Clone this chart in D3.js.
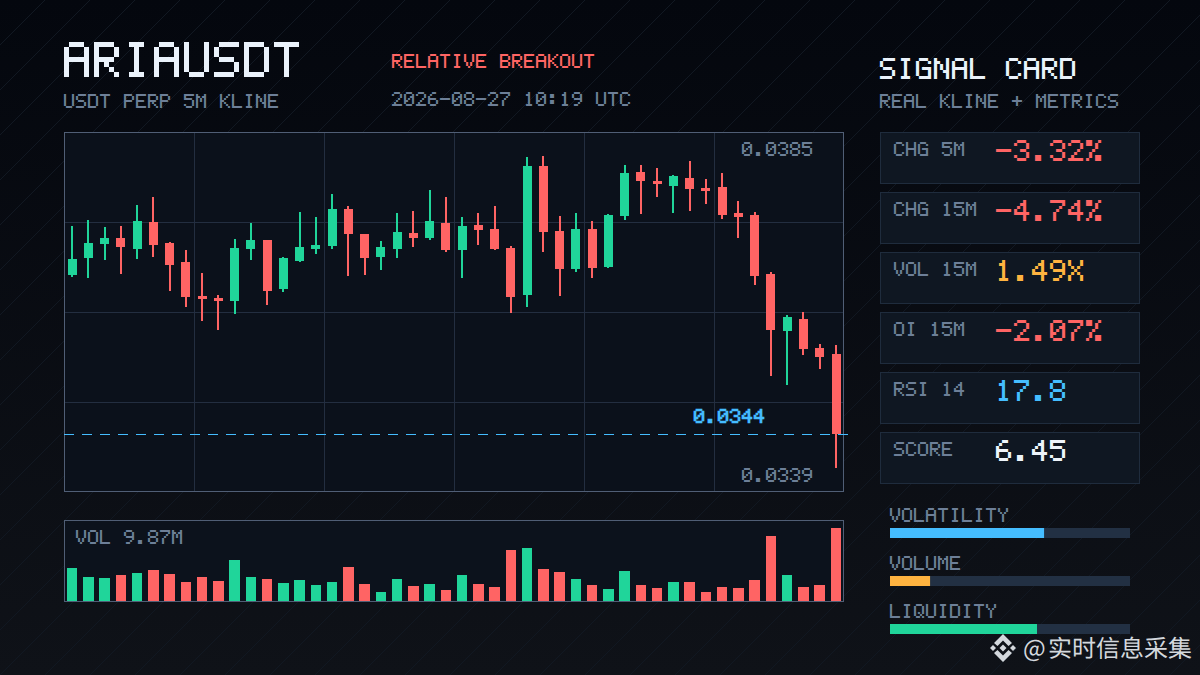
<!DOCTYPE html>
<html><head><meta charset="utf-8">
<script src="https://cdnjs.cloudflare.com/ajax/libs/d3/7.8.5/d3.min.js"></script>
<style>html,body{margin:0;padding:0;background:#05080f;overflow:hidden}svg{display:block}
text{font-family:"Px57","DejaVu Sans Mono",monospace;text-rendering:geometricPrecision;font-kerning:none}</style></head><body><svg id="c" width="1200" height="675"></svg>
<script>
// values
const opens = [.036746,.036996,.037203,.037291,.037129,.037527,.037217,.036937,.036436,.036406,.036362,.037129,.037262,.036539,.036952,.037129,.037173,.037719,.037350,.037011,.037129,.037365,.037291,.037512,.037114,.037483,.037424,.037144,.036451,.038353,.037394,.036834,.037424,.036863,.037615,.038264,.038131,.038058,.038176,.038028,.038043,.037660,.037630,.036760,.035920,.036097,.035669,.035581];
const closes = [.036981,.037217,.037291,.037158,.037542,.037188,.036893,.036421,.036392,.036362,.037144,.037262,.036510,.036996,.037158,.037188,.037719,.037350,.036996,.037158,.037379,.037291,.037542,.037114,.037468,.037409,.037129,.036421,.038353,.037379,.036834,.037424,.036849,.037630,.038249,.038131,.038087,.038205,.038013,.037984,.037630,.037601,.036731,.035935,.036126,.035654,.035537,.034401];
const highs = [.037468,.037556,.037453,.037468,.037778,.037895,.037232,.037114,.036775,.036451,.037276,.037512,.037262,.037011,.037674,.037601,.037940,.037763,.037350,.037247,.037660,.037689,.037999,.037895,.037601,.037660,.037763,.037173,.038485,.038500,.037615,.037660,.037542,.037645,.038367,.038367,.038323,.038220,.038426,.038161,.038249,.037837,.037674,.036790,.036156,.036200,.035728,.035713];
const lows = [.036716,.036701,.036967,.036760,.036981,.037011,.036510,.036274,.036067,.035935,.036171,.036967,.036303,.036495,.036937,.037055,.037129,.036731,.036746,.036819,.036996,.037158,.037262,.037085,.036701,.037188,.037114,.036185,.036274,.037085,.036436,.036790,.036701,.036849,.037556,.037645,.037895,.037660,.037689,.037792,.037571,.037291,.036598,.035256,.035124,.035566,.035360,.033900];
const volumes = [4.51,3.30,3.17,3.57,3.84,4.24,3.71,2.63,3.30,2.77,5.58,3.30,3.04,2.50,2.90,2.23,2.63,4.64,2.37,1.30,3.04,2.10,2.37,1.56,3.57,2.37,1.97,6.92,7.19,4.38,3.97,3.04,2.23,1.70,4.11,2.23,1.83,2.63,2.63,1.30,1.97,1.83,2.90,8.80,3.57,1.97,2.23,9.87];
const gridX = [1,2,3,4,5];
const gridY = [1,2,3];
const metricLabels = ["CHG 5M","CHG 15M","VOL 15M","OI 15M","RSI 14","SCORE"];
const metricValues = ["-3.32%","-4.74%","1.49X","-2.07%","17.8","6.45"];
const metricColors = ["#ff6464","#ff6464","#ffb340","#ff6464","#45bdff","#eef4fb"];
const gaugeLabels = ["VOLATILITY","VOLUME","LIQUIDITY"];
const gaugeValues = [0.642,0.167,0.6125];
const gaugeColors = ["#45bdff","#ffb340","#20d59a"];

// a small 5x7 pixel typeface, assembled in memory so that all text stays real text
const GLYPHS={
A:".###.|#...#|#...#|#####|#...#|#...#|#...#",B:"####.|#...#|#...#|####.|#...#|#...#|####.",C:".###.|#...#|#....|#....|#....|#...#|.###.",D:"####.|#...#|#...#|#...#|#...#|#...#|####.",E:"#####|#....|#....|####.|#....|#....|#####",
G:".###.|#...#|#....|#.###|#...#|#...#|.####",H:"#...#|#...#|#...#|#####|#...#|#...#|#...#",I:".###.|..#..|..#..|..#..|..#..|..#..|.###.",K:"#...#|#..#.|#.#..|##...|#.#..|#..#.|#...#",L:"#....|#....|#....|#....|#....|#....|#####",
M:"#...#|##.##|#.#.#|#.#.#|#...#|#...#|#...#",N:"#...#|##..#|#.#.#|#.#.#|#..##|#...#|#...#",O:".###.|#...#|#...#|#...#|#...#|#...#|.###.",P:"####.|#...#|#...#|####.|#....|#....|#....",Q:".###.|#...#|#...#|#...#|#.#.#|#..#.|.##.#",
R:"####.|#...#|#...#|####.|#.#..|#..#.|#...#",S:".####|#....|#....|.###.|....#|....#|####.",T:"#####|..#..|..#..|..#..|..#..|..#..|..#..",U:"#...#|#...#|#...#|#...#|#...#|#...#|.###.",V:"#...#|#...#|#...#|#...#|.#.#.|.#.#.|..#..",
X:"#...#|#...#|.#.#.|..#..|.#.#.|#...#|#...#",Y:"#...#|#...#|.#.#.|..#..|..#..|..#..|..#..",
0:".###.|#...#|#..##|#.#.#|##..#|#...#|.###.",1:"..#..|.##..|..#..|..#..|..#..|..#..|.###.",2:".###.|#...#|....#|...#.|..#..|.#...|#####",3:".###.|#...#|....#|..##.|....#|#...#|.###.",4:"...#.|..##.|.#.#.|#..#.|#####|...#.|...#.",
5:"#####|#....|####.|....#|....#|#...#|.###.",6:"..##.|.#...|#....|####.|#...#|#...#|.###.",7:"#####|....#|...#.|..#..|.#...|.#...|.#...",8:".###.|#...#|#...#|.###.|#...#|#...#|.###.",9:".###.|#...#|#...#|.####|....#|...#.|.##..",
".":".....|.....|.....|.....|.....|.##..|.##..",":":".....|.##..|.##..|.....|.##..|.##..|.....","-":".....|.....|.....|#####|.....|.....|.....","+":".....|..#..|..#..|#####|..#..|..#..|.....","%":"##..#|##.#.|...#.|..#..|.#...|.#.##|#..##"," ":".....|.....|.....|.....|.....|.....|....."};
function buildFont(){
  const W=()=>{const a=[];return{a,u8:v=>a.push(v&255),u16:v=>a.push((v>>8)&255,v&255),u32:v=>a.push((v>>>24)&255,(v>>>16)&255,(v>>>8)&255,v&255)}};
  const chars=Object.keys(GLYPHS).sort((p,q)=>p.charCodeAt(0)-q.charCodeAt(0));
  const n=chars.length+1,CELL=100;
  const glyf=W(),offs=[0];let maxPts=0,maxCon=0;const lsb=[0];
  offs.push(0);
  chars.forEach(ch=>{
    const rects=[];
    GLYPHS[ch].split("|").forEach((row,r)=>{
      let c=0;
      while(c<5){ if(row[c]==="#"){let e=c;while(e<5&&row[e]==="#")e++;
        const y0=(6-r)*CELL;rects.push([c*CELL,y0,e*CELL,y0+CELL+(r>0?2:0)]);c=e;} else c++; }
    });
    if(rects.length){
      const xMin=d3.min(rects,d=>d[0]),xMax=d3.max(rects,d=>d[2]),yMin=d3.min(rects,d=>d[1]),yMax=d3.max(rects,d=>d[3]);
      glyf.u16(rects.length);glyf.u16(xMin);glyf.u16(yMin);glyf.u16(xMax);glyf.u16(yMax);
      rects.forEach((_,i)=>glyf.u16(i*4+3));glyf.u16(0);
      rects.forEach(()=>{for(let k=0;k<4;k++)glyf.u8(1);});
      let px=0;rects.forEach(q=>{[q[0],q[0],q[2],q[2]].forEach(v=>{glyf.u16(v-px);px=v;});});
      let py=0;rects.forEach(q=>{[q[1],q[3],q[3],q[1]].forEach(v=>{glyf.u16(v-py);py=v;});});
      while(glyf.a.length%4)glyf.u8(0);
      maxPts=Math.max(maxPts,rects.length*4);maxCon=Math.max(maxCon,rects.length);lsb.push(xMin);
    } else lsb.push(0);
    offs.push(glyf.a.length);
  });
  const loca=W();offs.forEach(o=>loca.u32(o));
  const hmtx=W();for(let i=0;i<n;i++){hmtx.u16(600);hmtx.u16(lsb[i]);}
  const head=W();head.u32(0x00010000);head.u32(0x00010000);head.u32(0);head.u32(0x5F0F3CF5);head.u16(3);head.u16(1000);
  for(let i=0;i<4;i++)head.u32(0);head.u16(0);head.u16(0);head.u16(500);head.u16(700);head.u16(0);head.u16(8);head.u16(2);head.u16(1);head.u16(0);
  const hhea=W();hhea.u32(0x00010000);hhea.u16(800);hhea.u16(-200);hhea.u16(0);hhea.u16(600);hhea.u16(0);hhea.u16(100);hhea.u16(500);hhea.u16(1);hhea.u16(0);hhea.u16(0);for(let i=0;i<4;i++)hhea.u16(0);hhea.u16(0);hhea.u16(n);
  const maxp=W();maxp.u32(0x00010000);maxp.u16(n);maxp.u16(maxPts);maxp.u16(maxCon);maxp.u16(0);maxp.u16(0);maxp.u16(2);for(let i=0;i<8;i++)maxp.u16(0);
  const cmap=W();const seg=chars.length+1;cmap.u16(0);cmap.u16(1);cmap.u16(3);cmap.u16(1);cmap.u32(12);
  cmap.u16(4);cmap.u16(16+8*seg);cmap.u16(0);cmap.u16(seg*2);
  const es=Math.floor(Math.log2(seg)),sr=2*Math.pow(2,es);cmap.u16(sr);cmap.u16(es);cmap.u16(seg*2-sr);
  chars.forEach(c=>cmap.u16(c.charCodeAt(0)));cmap.u16(0xFFFF);cmap.u16(0);
  chars.forEach(c=>cmap.u16(c.charCodeAt(0)));cmap.u16(0xFFFF);
  chars.forEach((c,i)=>cmap.u16(i+1-c.charCodeAt(0)));cmap.u16(1);
  for(let i=0;i<seg;i++)cmap.u16(0);
  const names=[[1,"Px57"],[2,"Regular"],[4,"Px57"],[6,"Px57-Regular"]];
  const name=W();name.u16(0);name.u16(names.length);name.u16(6+12*names.length);let so=0;
  names.forEach(([id,s])=>{name.u16(3);name.u16(1);name.u16(0x409);name.u16(id);name.u16(s.length*2);name.u16(so);so+=s.length*2;});
  names.forEach(([,s])=>{for(const c of s)name.u16(c.charCodeAt(0));});
  const os2=W();os2.u16(1);os2.u16(600);os2.u16(400);os2.u16(5);os2.u16(0);for(let i=0;i<10;i++)os2.u16(100);os2.u16(0);for(let i=0;i<10;i++)os2.u8(0);for(let i=0;i<4;i++)os2.u32(0);
  "NONE".split("").forEach(c=>os2.u8(c.charCodeAt(0)));os2.u16(0x40);os2.u16(32);os2.u16(89);os2.u16(800);os2.u16(-200);os2.u16(0);os2.u16(800);os2.u16(200);os2.u32(1);os2.u32(0);
  const post=W();post.u32(0x00030000);post.u32(0);post.u16(-100);post.u16(50);post.u32(1);for(let i=0;i<4;i++)post.u32(0);
  const tables=[["OS/2",os2],["cmap",cmap],["glyf",glyf],["head",head],["hhea",hhea],["hmtx",hmtx],["loca",loca],["maxp",maxp],["name",name],["post",post]];
  const sum=a=>{let s=0;for(let i=0;i<a.length;i+=4)s=(s+(((a[i]||0)*16777216)+((a[i+1]||0)<<16)+((a[i+2]||0)<<8)+(a[i+3]||0)))%4294967296;return s;};
  const out=W();const nt=tables.length,e2=Math.floor(Math.log2(nt)),r2=16*Math.pow(2,e2);
  out.u32(0x00010000);out.u16(nt);out.u16(r2);out.u16(e2);out.u16(nt*16-r2);
  let off=12+16*nt;
  tables.forEach(([tag,t])=>{for(const c of tag)out.u8(c.charCodeAt(0));out.u32(sum(t.a));out.u32(off);out.u32(t.a.length);off+=(t.a.length+3)&~3;});
  let headOff=0;
  tables.forEach(([tag,t])=>{if(tag==="head")headOff=out.a.length;t.a.forEach(b=>out.a.push(b));while(out.a.length%4)out.a.push(0);});
  const adj=(0xB1B0AFBA-sum(out.a)+4294967296)%4294967296;
  out.a[headOff+8]=(adj>>>24)&255;out.a[headOff+9]=(adj>>>16)&255;out.a[headOff+10]=(adj>>>8)&255;out.a[headOff+11]=adj&255;
  return new Uint8Array(out.a).buffer;
}
try{const ff=new FontFace("Px57",buildFont());document.fonts.add(ff);ff.load().catch(e=>console.error(e));}catch(e){console.error(e);}

const UP="#20d59a", DOWN="#ff6464", MUTED="#6d7f98", WHITE="#eaf2fb", BLUE="#45bdff", GRID="#232e40", FRAME="#505e75";
const svg=d3.select("#c");
const defs=svg.append("defs");
const g=defs.append("linearGradient").attr("id","bg").attr("x1",0).attr("y1",0).attr("x2",0).attr("y2",1);
g.append("stop").attr("offset",0).attr("stop-color","#04070e");
g.append("stop").attr("offset",1).attr("stop-color","#0f1218");

svg.append("rect").attr("width",1200).attr("height",675).attr("fill","url(#bg)");
// diagonal texture
const diag=svg.append("g").attr("stroke","#111822").attr("stroke-width",1);
d3.range(0,1900,45).forEach(x0=>diag.append("line").attr("x1",x0).attr("y1",0).attr("x2",x0-675).attr("y2",675));

function label(sel,x,y,t,size,fill,heavy){
  const n=sel.append("text").attr("x",x+1).attr("y",y).attr("font-size",size).attr("fill",fill).text(t);
  if(heavy) n.attr("stroke",fill).attr("stroke-width",heavy);
  return n;
}
// header
label(svg,63,77,"ARIAUSDT",50,WHITE);
label(svg,63,108,"USDT PERP 5M KLINE",20,MUTED);
label(svg,391,68,"RELATIVE BREAKOUT",20,DOWN);
label(svg,391,106,"2026-08-27 10:19 UTC",20,MUTED);
label(svg,879,79,"SIGNAL CARD",30,WHITE);
label(svg,879,108,"REAL KLINE + METRICS",20,MUTED);

// main plot
svg.append("rect").attr("x",64.5).attr("y",132.5).attr("width",779).attr("height",359).attr("fill","#0b111b");
const gx=d3.scaleLinear().domain([0,6]).range([64.5,844.5]);
const gy=d3.scaleLinear().domain([0,4]).range([132.5,492.5]);
svg.append("g").selectAll("line").data(gridX).join("line").attr("x1",d=>gx(d)).attr("x2",d=>gx(d)).attr("y1",133).attr("y2",491).attr("stroke",GRID);
svg.append("g").selectAll("line").data(gridY).join("line").attr("y1",d=>gy(d)).attr("y2",d=>gy(d)).attr("x1",65).attr("x2",843).attr("stroke",GRID);

const idx=d3.range(highs.length);
const x=d3.scaleLinear().domain([0,47]).range([72,836]);
const y=d3.scaleLinear().domain([0.0339,0.0385]).range([468,156]);
const col=i=>closes[i]>=opens[i]?UP:DOWN;
const R=Math.round;
const cg=svg.append("g").attr("shape-rendering","crispEdges");
cg.selectAll("rect.w").data(idx).join("rect").attr("class","w").attr("x",i=>R(x(i)-1)).attr("width",2).attr("y",i=>R(y(highs[i]))).attr("height",i=>R(y(lows[i]))-R(y(highs[i]))).attr("fill",col);
cg.selectAll("rect.b").data(idx).join("rect").attr("class","b").attr("x",i=>R(x(i)-4.5)).attr("width",9).attr("y",i=>R(y(Math.max(opens[i],closes[i])))).attr("height",i=>R(y(Math.min(opens[i],closes[i])))-R(y(Math.max(opens[i],closes[i])))).attr("fill",col);

svg.append("rect").attr("x",64.5).attr("y",132.5).attr("width",779).attr("height",359).attr("fill","none").attr("stroke",FRAME);
const lastY=Math.floor(y(0.0344))+.5;
svg.append("line").attr("x1",64).attr("x2",848).attr("y1",lastY).attr("y2",lastY).attr("stroke",BLUE).attr("stroke-dasharray","10 8");
label(svg,741,156,"0.0385",20,MUTED);
label(svg,741,482,"0.0339",20,MUTED);
label(svg,693,423,"0.0344",20,BLUE,0.6);

// volume
svg.append("rect").attr("x",64.5).attr("y",520.5).attr("width",779).attr("height",81).attr("fill","#0c121c");
const vy=d3.scaleLinear().domain([0,d3.max(volumes)]).range([602,528]);
svg.append("g").attr("shape-rendering","crispEdges").selectAll("rect").data(idx).join("rect")
 .attr("x",i=>R(x(i)-5.25)).attr("width",i=>R(x(i)+5.25)-R(x(i)-5.25)).attr("y",i=>R(vy(volumes[i]))).attr("height",i=>602-R(vy(volumes[i]))).attr("fill",col);
svg.append("rect").attr("x",64.5).attr("y",520.5).attr("width",779).attr("height",81).attr("fill","none").attr("stroke",FRAME);
label(svg,75,544,"VOL 9.87M",20,MUTED);

// metric cards
const cardY=d3.scaleLinear().domain([0,5]).range([132.5,432.5]);
metricLabels.forEach((t,i)=>{
  const yy=cardY(i);
  svg.append("rect").attr("x",880.5).attr("y",yy).attr("width",259).attr("height",51).attr("fill","#0f1722").attr("stroke","#1f2c3d");
  label(svg,893,yy+23.5,t,20,MUTED);
  label(svg,995,yy+28.5,metricValues[i],30,metricColors[i]);
});

// gauges
const gw=d3.scaleLinear().domain([0,1]).range([0,240]);
const gt=d3.scaleLinear().domain([0,2]).range([528,624]);
gaugeLabels.forEach((t,i)=>{
  const yy=gt(i);
  label(svg,889,yy-6,t,20,MUTED);
  svg.append("rect").attr("x",890).attr("y",yy).attr("width",gw(1)).attr("height",10).attr("fill","#223043");
  svg.append("rect").attr("x",890).attr("y",yy).attr("width",gw(gaugeValues[i])).attr("height",10).attr("fill",gaugeColors[i]);
});

// watermark
const wm=svg.append("g").attr("fill","#d4d8dd");
const diamond=(cx,cy,r)=>`M${cx-r},${cy}L${cx},${cy-r}L${cx+r},${cy}L${cx},${cy+r}Z`;
wm.append("path").attr("d",diamond(1003,648,3.5));
wm.append("path").attr("d",diamond(993,648,3));
wm.append("path").attr("d",diamond(1013,648,3));
wm.append("path").attr("d","M1003,634L1012,643L1008.5,646L1003,640.5L997.5,646L994,643Z");
wm.append("path").attr("d","M1003,662L1012,653L1008.5,650L1003,655.5L997.5,650L994,653Z");
wm.append("text").attr("x",1023).attr("y",657).attr("font-size",24).style("font-family",'"Noto Sans CJK SC"').text("@");
wm.append("text").attr("x",1048).attr("y",657).attr("font-size",24).style("font-family",'"Noto Sans CJK SC"').text("实时信息采集");
</script></body></html>
